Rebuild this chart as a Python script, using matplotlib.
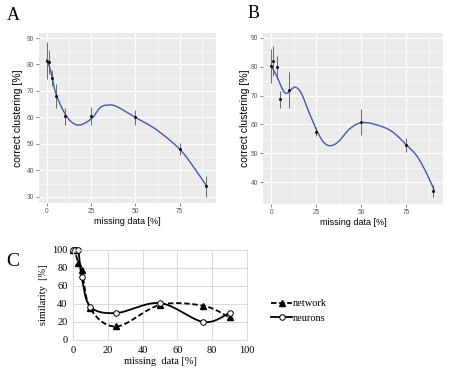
import numpy as np
import matplotlib.pyplot as plt
from matplotlib.lines import Line2D

missing = [0, 1, 3, 5, 10, 25, 50, 75, 90]

# panel A: mean correct clustering and error half-widths
a_mean = [81.5, 81, 75, 68, 60.5, 60.5, 60, 48, 34]
a_err = [7, 4.5, 3, 4.5, 3.2, 3.3, 2.7, 2.2, 4]
# fitted (loess) curve
a_fit_x = [0, 2.2, 5, 10, 14.4, 19, 25.4, 30.2, 34.8, 39.5, 50, 62, 75, 84, 90.3]
a_fit_y = [81.7, 77.3, 69.1, 61.6, 58, 57.2, 59.7, 63.8, 64.7, 64.1, 60, 55.3, 48, 40.2, 33.9]

# panel B
b_mean = [80.3, 82, 79.8, 68.7, 71.9, 57.5, 60.8, 52.8, 36.9]
b_err = [6, 5.3, 3.9, 3, 6.2, 1.5, 4.6, 2.5, 2]
b_fit_x = [0, 2.8, 6.5, 8.8, 11.3, 13.6, 16.8, 20.5, 25.2, 28.9, 32.7, 37.3, 43.9,
           50.4, 58.8, 67.2, 75.2, 81.2, 86.8, 90.5]
b_fit_y = [80.3, 77.2, 71.9, 70.8, 72.2, 72.9, 70.8, 65, 58.1, 54, 52.6, 54, 58.6,
           60.6, 59.8, 57.5, 52.8, 48.8, 42.4, 37.2]

# panel C: similarity
network = [100, 100, 85, 78, 35, 15, 39, 38, 25]
neurons = [100, 100, 100, 70, 37, 30, 41, 20, 30]


def smooth(x, y, n=24):
    # catmull-rom through the points, like a smoothed excel line
    pts = np.column_stack([x, y]).astype(float)
    pts = np.vstack([pts[0], pts, pts[-1]])
    t = np.linspace(0, 1, n, endpoint=False)[:, None]
    out = []
    for i in range(1, len(pts) - 2):
        p0, p1, p2, p3 = pts[i - 1], pts[i], pts[i + 1], pts[i + 2]
        seg = 0.5 * (2 * p1 + (-p0 + p2) * t + (2 * p0 - 5 * p1 + 4 * p2 - p3) * t ** 2
                     + (-p0 + 3 * p1 - 3 * p2 + p3) * t ** 3)
        out.append(seg)
    out.append(pts[-2][None])
    out = np.vstack(out)
    return out[:, 0], out[:, 1]


def gg_panel(ax, ylim, yticks, ylab_x):
    ax.set_facecolor('#EBEBEB')
    for s in ax.spines.values():
        s.set_visible(False)
    ax.set_xlim(-4.5, 95.5)
    ax.set_ylim(*ylim)
    ax.set_xticks([0, 25, 50, 75])
    ax.set_xticks([12.5, 37.5, 62.5, 87.5], minor=True)
    ax.set_yticks(yticks)
    ax.set_yticks([v + 5 for v in yticks[:-1]], minor=True)
    ax.grid(which='major', color='white', lw=0.8)
    ax.grid(which='minor', color='white', lw=0.4)
    ax.set_axisbelow(True)
    ax.tick_params(which='major', length=2, width=0.5, color='#555555',
                   labelsize=4.8, labelcolor='#5A5A5A', pad=1.5)
    ax.tick_params(which='minor', length=0)
    for lab in ax.get_xticklabels() + ax.get_yticklabels():
        lab.set_family('Liberation Sans')
    ax.set_xlabel('missing data [%]', fontsize=6.5, family='Liberation Sans')
    ax.set_ylabel('correct clustering [%]', fontsize=7.5, family='Liberation Sans')
    ax.xaxis.set_label_coords(0.5, -0.08)
    ax.yaxis.set_label_coords(ylab_x, 0.5)


fig = plt.figure(figsize=(4.74, 3.84), dpi=100)

blue = '#3F5BB0'

axA = fig.add_axes([0.0823, 0.4714, 0.3734, 0.4427])
gg_panel(axA, (27.7, 91.9), [30, 40, 50, 60, 70, 80, 90], -0.09)
fx, fy = smooth(a_fit_x, a_fit_y)
axA.plot(fx, fy, color=blue, lw=1.0, zorder=2)
axA.errorbar(missing, a_mean, yerr=a_err, fmt='o', ms=1.2, color='#111111',
             ecolor='#555555', elinewidth=0.6, capsize=0, zorder=3)

axB = fig.add_axes([0.5549, 0.4688, 0.380, 0.4453])
gg_panel(axB, (32.4, 91.7), [40, 50, 60, 70, 80, 90], -0.072)
fx, fy = smooth(b_fit_x, b_fit_y)
axB.plot(fx, fy, color=blue, lw=1.0, zorder=2)
axB.errorbar(missing, b_mean, yerr=b_err, fmt='o', ms=1.2, color='#111111',
             ecolor='#555555', elinewidth=0.6, capsize=0, zorder=3)

# panel C, excel style
serif = 'Liberation Serif'
axC = fig.add_axes([0.154, 0.1146, 0.367, 0.2344])
axC.set_xlim(0, 100)
axC.set_ylim(0, 100)
axC.set_xticks(range(0, 101, 20))
axC.set_yticks(range(0, 101, 20))
axC.grid(color='#D9D9D9', lw=0.7)
axC.set_axisbelow(True)
for s in axC.spines.values():
    s.set_color('#D9D9D9')
    s.set_linewidth(0.7)
axC.tick_params(length=0, labelsize=7.5, pad=4)
for lab in axC.get_xticklabels() + axC.get_yticklabels():
    lab.set_family(serif)
sx, sy = smooth(missing, network)
axC.plot(sx, sy, color='black', lw=1.3, ls=(0, (3, 1.5)), clip_on=False)
axC.plot(missing, network, ls='none', marker='^', ms=4.2, color='black', clip_on=False)
sx, sy = smooth(missing, neurons)
axC.plot(sx, sy, color='black', lw=1.3, clip_on=False)
axC.plot(missing, neurons, ls='none', marker='o', ms=4.0, mfc='white', mec='black',
         mew=0.7, clip_on=False)
axC.set_xlabel('missing  data [%]', fontsize=7.5, family=serif, labelpad=2)
axC.set_ylabel('similarity  [%]', fontsize=7.5, family=serif, labelpad=3)

handles = [Line2D([], [], color='black', lw=1.3, ls=(0, (3, 1.5)), marker='^', ms=4.2),
           Line2D([], [], color='black', lw=1.3, marker='o', ms=4.0, mfc='white', mew=0.7)]
leg = fig.legend(handles, ['network', 'neurons'], loc='center left',
                 bbox_to_anchor=(262 / 474, 1 - 311 / 384), frameon=False,
                 handlelength=2.0, handletextpad=0.1, labelspacing=0.5,
                 prop={'family': serif, 'size': 7.5})

fig.text(13 / 474, 1 - 15 / 384, 'A', family=serif, fontsize=13, ha='center', va='center')
fig.text(254 / 474, 1 - 14 / 384, 'B', family=serif, fontsize=13, ha='center', va='center')
fig.text(13 / 474, 1 - 261 / 384, 'C', family=serif, fontsize=14, ha='center', va='center')

fig.savefig('out.png', dpi=100)
